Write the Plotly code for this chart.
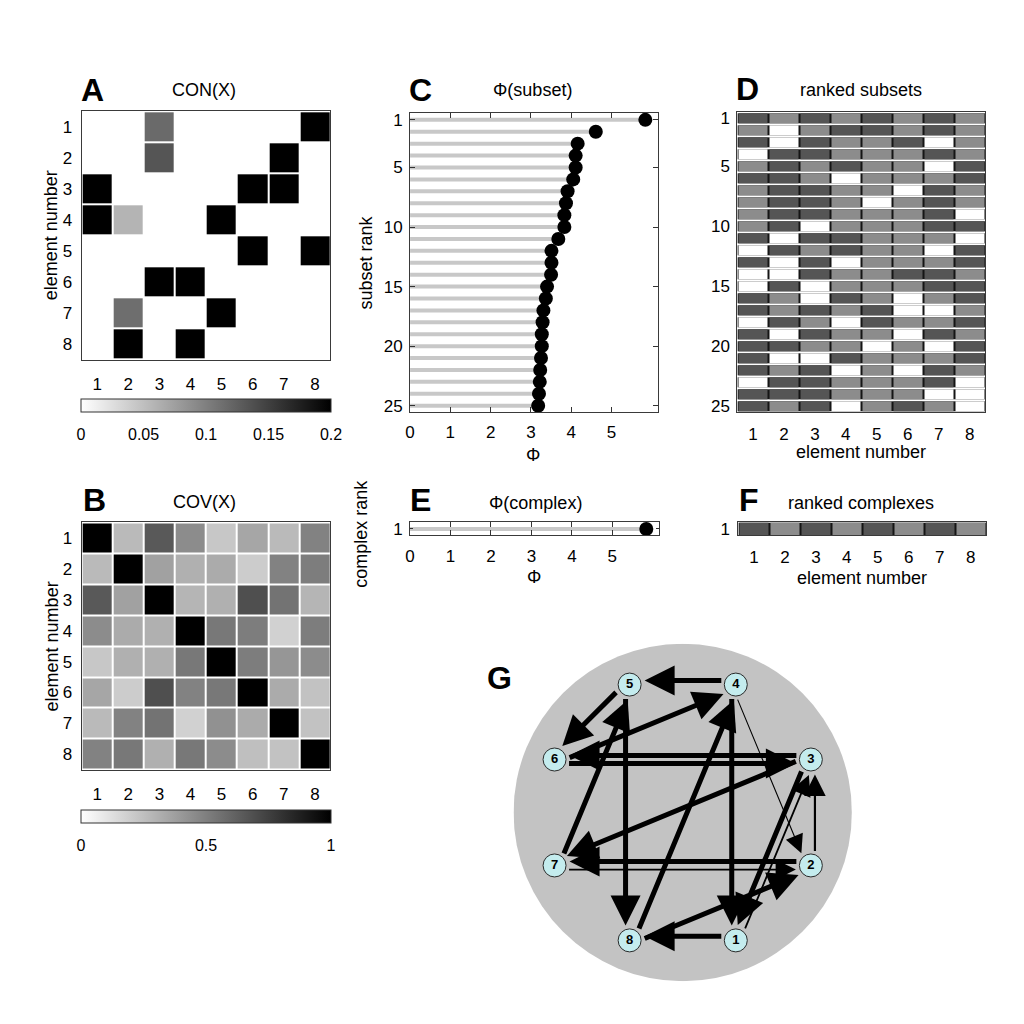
import math
import plotly.graph_objects as go

W = H = 1024
OFF = 8  # page body margin of the rendered html
FONT = "Liberation Sans, Arial, Helvetica, sans-serif"

# ---------------- data ----------------
elements = [1, 2, 3, 4, 5, 6, 7, 8]

# CON(X): row = source element, column = target element
con_x = [
    [0, 0, 0.117, 0, 0, 0, 0, 0.2],
    [0, 0, 0.133, 0, 0, 0, 0.2, 0],
    [0.2, 0, 0, 0, 0, 0.2, 0.2, 0],
    [0.2, 0.059, 0, 0, 0.2, 0, 0, 0],
    [0, 0, 0, 0, 0, 0.2, 0, 0.2],
    [0, 0, 0.2, 0.2, 0, 0, 0, 0],
    [0, 0.114, 0, 0, 0.2, 0, 0, 0],
    [0, 0.2, 0, 0.2, 0, 0, 0, 0],
]

cov_x = [
    [1.00, 0.27, 0.65, 0.45, 0.22, 0.35, 0.27, 0.49],
    [0.27, 1.00, 0.37, 0.31, 0.33, 0.20, 0.49, 0.51],
    [0.65, 0.37, 1.00, 0.29, 0.31, 0.69, 0.55, 0.29],
    [0.45, 0.33, 0.31, 1.00, 0.53, 0.51, 0.18, 0.51],
    [0.22, 0.31, 0.31, 0.53, 1.00, 0.51, 0.41, 0.45],
    [0.35, 0.20, 0.69, 0.49, 0.53, 1.00, 0.33, 0.24],
    [0.27, 0.49, 0.55, 0.18, 0.43, 0.33, 1.00, 0.24],
    [0.49, 0.53, 0.31, 0.53, 0.45, 0.25, 0.24, 1.00],
]

subset_rank = list(range(1, 26))
phi_subset = [5.84, 4.61, 4.16, 4.11, 4.11, 4.05, 3.91, 3.87, 3.83, 3.83,
              3.68, 3.51, 3.51, 3.50, 3.40, 3.37, 3.31, 3.29, 3.27, 3.27,
              3.25, 3.23, 3.22, 3.20, 3.18]

# ranked subsets: 2 = dark, 1 = mid grey, 0 = element not in subset
ranked_subsets = [
    [2, 1, 2, 1, 2, 1, 2, 1],
    [1, 0, 1, 2, 2, 1, 2, 1],
    [2, 0, 2, 1, 1, 2, 0, 1],
    [0, 2, 2, 1, 1, 1, 2, 1],
    [1, 2, 1, 2, 1, 1, 0, 2],
    [2, 2, 1, 0, 1, 1, 1, 2],
    [1, 2, 2, 1, 1, 0, 2, 1],
    [1, 2, 2, 1, 0, 1, 2, 1],
    [1, 2, 2, 1, 1, 1, 2, 0],
    [1, 2, 0, 1, 1, 1, 2, 2],
    [2, 0, 2, 2, 1, 1, 1, 0],
    [0, 2, 1, 2, 1, 1, 0, 2],
    [2, 0, 2, 0, 1, 1, 1, 2],
    [0, 0, 2, 1, 1, 2, 2, 1],
    [0, 2, 0, 1, 1, 1, 2, 2],
    [2, 1, 0, 2, 1, 0, 1, 2],
    [2, 1, 2, 1, 2, 0, 0, 1],
    [0, 2, 1, 0, 2, 1, 1, 2],
    [2, 0, 2, 1, 1, 0, 2, 1],
    [2, 2, 1, 1, 0, 1, 0, 2],
    [2, 0, 0, 2, 1, 1, 1, 2],
    [2, 1, 2, 0, 1, 0, 2, 1],
    [0, 2, 2, 1, 1, 1, 2, 0],
    [2, 2, 2, 1, 1, 1, 0, 0],
    [2, 1, 2, 0, 1, 2, 1, 0],
]

complex_rank = [1]
phi_complex = [5.84]
ranked_complexes = [[2, 1, 2, 1, 2, 1, 2, 1]]

con_ticks = [0, 0.05, 0.1, 0.15, 0.2]
cov_ticks = [0, 0.5, 1]
phi_ticks = [0, 1, 2, 3, 4, 5]
rank_ticks = [1, 5, 10, 15, 20, 25]

# ---------------- layout helpers ----------------
def px_x(x):
    return (x - OFF) / W

def px_y(y):
    return 1 - (y - OFF) / H

def dom(x0, x1, y0, y1):
    return [px_x(x0), px_x(x1)], [px_y(y1), px_y(y0)]

boxes = {
    "A": (77, 327, 109, 359),
    "B": (77, 327, 523, 772),
    "C": (407, 656, 111, 412),
    "D": (736, 985, 110, 412),
    "E": (407, 657, 523, 536),
    "F": (737, 986, 523, 536),
    "G": (511, 851, 645, 985),
}

TICK = 17
base_axis = dict(showline=True, mirror=True, linecolor="#3a3a3a", linewidth=1,
                 showgrid=False, zeroline=False,
                 tickfont=dict(family=FONT, size=TICK, color="black"))

grey_scale = [[0, "#ffffff"], [1, "#000000"]]
subset_scale = [[0, "#ffffff"], [0.5, "#8c8c8c"], [1, "#555555"]]
black_scale = [[0, "#151515"], [1, "#151515"]]

fig = go.Figure()

def cbar(ticks, labels, ytop):
    return dict(orientation="h", x=px_x(202), xanchor="center",
                y=px_y(ytop), yanchor="top", len=250, lenmode="pixels",
                thickness=13, thicknessmode="pixels", xpad=0, ypad=0,
                outlinewidth=1, outlinecolor="#333",
                tickvals=ticks, ticktext=labels,
                ticks="outside", ticklen=9, tickcolor="rgba(0,0,0,0)",
                tickfont=dict(family=FONT, size=16, color="black"))

# ---------- A: CON(X) ----------
fig.add_trace(go.Heatmap(
    z=con_x, x=elements, y=elements, xaxis="x", yaxis="y",
    colorscale=grey_scale, zmin=0, zmax=0.2, xgap=2, ygap=2,
    hoverinfo="skip",
    colorbar=cbar(con_ticks, [str(t) for t in con_ticks], 399)))

# ---------- B: COV(X) ----------
fig.add_trace(go.Heatmap(
    z=cov_x, x=elements, y=elements, xaxis="x2", yaxis="y2",
    colorscale=grey_scale, zmin=0, zmax=1, xgap=2, ygap=2,
    hoverinfo="skip",
    colorbar=cbar(cov_ticks, ["0", "0.5", "1"], 813)))

# ---------- C: Phi(subset) ----------
lx, ly = [], []
for r, v in zip(subset_rank, phi_subset):
    lx += [0, v, None]
    ly += [r, r, None]
fig.add_trace(go.Scatter(x=lx, y=ly, mode="lines", xaxis="x3", yaxis="y3",
                         line=dict(color="#c8c8c8", width=4), hoverinfo="skip",
                         showlegend=False))
fig.add_trace(go.Scatter(x=phi_subset, y=subset_rank, mode="markers",
                         xaxis="x3", yaxis="y3", cliponaxis=False,
                         marker=dict(color="black", size=14), showlegend=False))

# ---------- D: ranked subsets ----------
ones_d = [[1] * len(elements) for _ in subset_rank]
fig.add_trace(go.Heatmap(z=ones_d, x=elements, y=subset_rank, xaxis="x4", yaxis="y4",
                         colorscale=black_scale, zmin=0, zmax=1, ygap=2,
                         showscale=False, hoverinfo="skip"))
fig.add_trace(go.Heatmap(z=ranked_subsets, x=elements, y=subset_rank, xaxis="x4", yaxis="y4",
                         colorscale=subset_scale, zmin=0, zmax=2, xgap=2, ygap=2,
                         showscale=False, hoverinfo="skip"))

# ---------- E: Phi(complex) ----------
ex, ey = [], []
for r, v in zip(complex_rank, phi_complex):
    ex += [0, v, None]
    ey += [r, r, None]
fig.add_trace(go.Scatter(x=ex, y=ey, mode="lines", xaxis="x5", yaxis="y5",
                         line=dict(color="#c8c8c8", width=4), hoverinfo="skip",
                         showlegend=False))
fig.add_trace(go.Scatter(x=phi_complex, y=complex_rank, mode="markers",
                         xaxis="x5", yaxis="y5", cliponaxis=False,
                         marker=dict(color="black", size=14), showlegend=False))

# ---------- F: ranked complexes ----------
ones_f = [[1] * len(elements) for _ in complex_rank]
fig.add_trace(go.Heatmap(z=ones_f, x=elements, y=complex_rank, xaxis="x6", yaxis="y6",
                         colorscale=black_scale, zmin=0, zmax=1,
                         showscale=False, hoverinfo="skip"))
fig.add_trace(go.Heatmap(z=ranked_complexes, x=elements, y=complex_rank, xaxis="x6", yaxis="y6",
                         colorscale=subset_scale, zmin=0, zmax=2, xgap=2,
                         showscale=False, hoverinfo="skip"))

# ---------- G: network ----------
node_r = 0.82
pos = {}
for k in elements:
    ang = math.radians(22.5 + 45 * (k - 3))
    pos[k] = (node_r * math.cos(ang), node_r * math.sin(ang))

annotations = []
off = 0.024
for i, src in enumerate(elements):
    for j, tgt in enumerate(elements):
        v = con_x[i][j]
        if v <= 0:
            continue
        sx, sy = pos[src]
        tx, ty = pos[tgt]
        dx, dy = tx - sx, ty - sy
        L = math.hypot(dx, dy)
        px, py = dy / L * off, -dx / L * off
        w = 1.0 + 4.0 * (v / 0.2) ** 3
        headlen = 1.3 * (12 + 2.4 * w)
        annotations.append(dict(
            x=tx + px, y=ty + py, ax=sx + px, ay=sy + py,
            xref="x7", yref="y7", axref="x7", ayref="y7",
            showarrow=True, arrowhead=2, arrowwidth=w,
            arrowsize=headlen / (5.2 * w), arrowcolor="black",
            standoff=15, startstandoff=13, text=""))

fig.add_trace(go.Scatter(
    x=[pos[k][0] for k in elements], y=[pos[k][1] for k in elements],
    xaxis="x7", yaxis="y7", mode="markers+text",
    text=[f"<b>{k}</b>" for k in elements], textposition="middle center",
    textfont=dict(family=FONT, size=13, color="black"),
    marker=dict(size=23, color="#c4ecee", line=dict(color="#2a2a2a", width=1)),
    hoverinfo="skip", showlegend=False))

shapes = [dict(type="circle", xref="x7", yref="y7", x0=-1, x1=1, y0=-1, y1=1,
               fillcolor="#c3c3c3", line=dict(width=0), layer="below")]

# ---------- text ----------
def txt(s, x, y, size=18, bold=False, angle=0):
    return dict(text=f"<b>{s}</b>" if bold else s, x=px_x(x), y=px_y(y),
                xref="paper", yref="paper", showarrow=False, textangle=angle,
                xanchor="center", yanchor="middle",
                font=dict(family=FONT, size=size, color="black"))

for s, x, y in [("A", 88, 88), ("B", 90, 500), ("C", 417, 88), ("D", 746, 87),
                ("E", 418, 500), ("F", 748, 500), ("G", 497, 680)]:
    annotations.append(txt(s, x, y, size=32, bold=True))

for s, x, y in [("CON(X)", 200, 88), ("COV(X)", 200, 502), ("Φ(subset)", 530, 88),
                ("ranked subsets", 860, 88), ("Φ(complex)", 533, 503),
                ("ranked complexes", 860, 503)]:
    annotations.append(txt(s, x, y, size=18))

for s, x, y, a in [("element number", 47, 234, -90), ("element number", 47, 648, -90),
                   ("subset rank", 363, 261, -90), ("complex rank", 358, 534, -90),
                   ("Φ", 531, 455, 0), ("Φ", 532, 578, 0),
                   ("element number", 860, 452, 0), ("element number", 861, 579, 0)]:
    annotations.append(txt(s, x, y, size=18, angle=a))

# ---------- axes ----------
layout_axes = {}
def set_axes(n, box, xkw, ykw):
    xd, yd = dom(*box)
    xs = "xaxis" if n == 1 else f"xaxis{n}"
    ys = "yaxis" if n == 1 else f"yaxis{n}"
    an_x = "x" if n == 1 else f"x{n}"
    an_y = "y" if n == 1 else f"y{n}"
    xa = dict(base_axis); xa.update(domain=xd, anchor=an_y); xa.update(xkw)
    ya = dict(base_axis); ya.update(domain=yd, anchor=an_x); ya.update(ykw)
    layout_axes[xs] = xa
    layout_axes[ys] = ya

heat_x = dict(range=[0.5, 8.5], tickvals=elements, ticks="", ticklabelstandoff=9)
heat_y = dict(range=[8.5, 0.5], tickvals=elements, ticks="", ticklabelstandoff=5)
set_axes(1, boxes["A"], heat_x, heat_y)
set_axes(2, boxes["B"], heat_x, heat_y)

phi_x = dict(range=[0, 6.15], tickvals=phi_ticks, ticks="inside", ticklen=5,
             tickcolor="#333", mirror="allticks", ticklabelstandoff=4)
set_axes(3, boxes["C"], phi_x,
         dict(range=[25.55, 0.45], tickvals=rank_ticks, ticks="inside", ticklen=5,
              tickcolor="#333", mirror="allticks", ticklabelstandoff=3))
set_axes(4, boxes["D"], dict(heat_x, ticklabelstandoff=6),
         dict(range=[25.5, 0.5], tickvals=rank_ticks, ticks="", ticklabelstandoff=3))
set_axes(5, boxes["E"], dict(phi_x, ticklabelstandoff=5),
         dict(range=[0.5, 1.5], tickvals=[1], ticks="inside", ticklen=3,
              tickcolor="#333", mirror="allticks", ticklabelstandoff=3))
set_axes(6, boxes["F"], dict(heat_x, ticklabelstandoff=6),
         dict(range=[0.5, 1.5], tickvals=[1], ticks="", ticklabelstandoff=4))
set_axes(7, boxes["G"], dict(range=[-1, 1], visible=False),
         dict(range=[-1, 1], visible=False))

fig.update_layout(
    width=W, height=H, margin=dict(l=0, r=0, t=0, b=0),
    paper_bgcolor="white", plot_bgcolor="white", showlegend=False,
    font=dict(family=FONT, size=16, color="black"),
    annotations=annotations, shapes=shapes, **layout_axes)

fig.write_html("out.html")
